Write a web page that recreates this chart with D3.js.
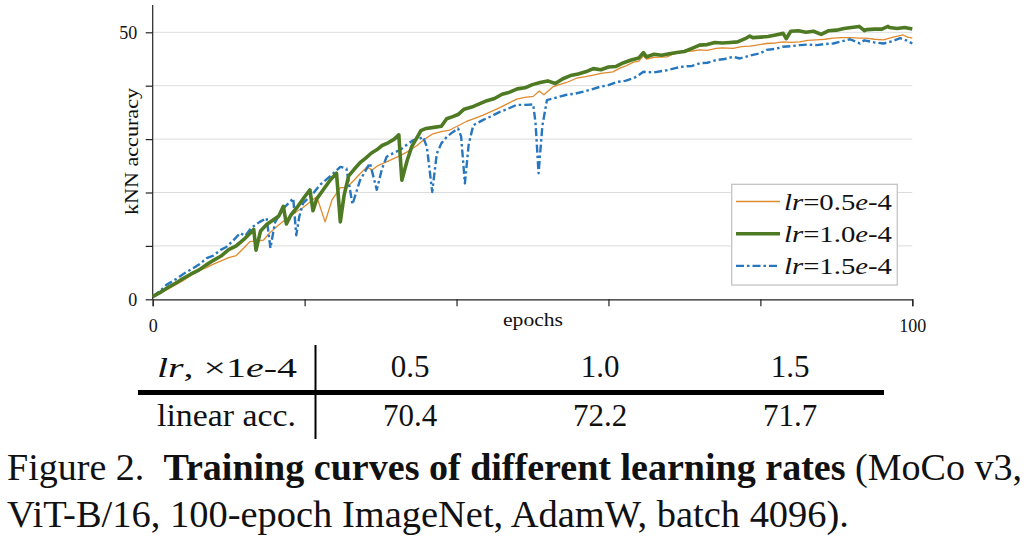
<!DOCTYPE html>
<html><head><meta charset="utf-8">
<script src="https://cdn.jsdelivr.net/npm/d3@7/dist/d3.min.js"></script>
<style>body{margin:0;background:#fff}svg{display:block}</style>
</head><body><svg id="c" width="1030" height="539"></svg>
<script>
// ---- data: [epoch, kNN accuracy] ----
const lr05 = [[0,0.5],[1,1.2],[2,1.9],[3,2.7],[4,3.5],[5,4.4],[6,5.3],[7,5.9],[8,6.6],[9,7.2],[10,7.8],[11,8.2],[12,9.6],[12.8,10.8],[13.5,10.9],[14.6,11.1],[15.3,12.3],[16.3,13.6],[17,14.4],[18,15.4],[19,16.5],[19.8,17.2],[20.7,18.2],[21.6,19.2],[22.7,14.5],[23.6,18.6],[24.7,20.9],[25.5,20.9],[26.5,22.3],[27.3,23.5],[28.2,24.8],[28.9,24.2],[29.6,25.0],[30.4,25.5],[31.5,26.2],[32.6,26.9],[33.5,27.6],[34.8,28.8],[35.8,30.0],[36.9,31.0],[38,31.4],[39.1,31.7],[40.2,32.5],[41.3,33.3],[42.4,33.9],[43.5,34.5],[44.6,35.2],[45.7,35.9],[46.8,36.7],[47.9,37.5],[49,37.8],[50.1,38.0],[50.9,39.0],[51.5,38.3],[52.7,39.8],[53.5,40.2],[54.5,40.6],[55.8,41.4],[57,41.7],[58,42.0],[59,42.3],[60.6,42.6],[61.5,43.3],[62.3,43.7],[63.3,44.4],[64,44.6],[64.6,45.6],[65,45.0],[66,45.3],[67.7,45.4],[68.5,45.9],[69.9,46.4],[71,46.5],[72,46.7],[73,46.6],[74.2,47.0],[75,47.1],[76.4,47.0],[77.5,47.3],[78.6,47.4],[79.5,47.6],[80.8,47.9],[82,48.0],[83,48.2],[84,48.1],[85.2,48.2],[86.2,48.5],[87.4,48.6],[88.5,48.7],[89.6,48.9],[90.7,49.0],[91.8,49.0],[93,48.9],[93.9,48.9],[95,48.7],[96.2,48.6],[97.5,49.1],[98.8,49.5],[99.4,49.1],[100,48.9]];
const lr10 = [[0,0.5],[1,1.3],[2,2.2],[3,3.0],[4,3.9],[5,4.7],[6,5.4],[7,6.4],[8,7.3],[9,8.1],[10,9.3],[11,10.0],[12,11.2],[13,12.6],[13.3,13.1],[13.6,9.2],[14.2,12.8],[15,14.0],[16,15.0],[16.6,15.6],[17.2,17.4],[17.6,14.1],[18.2,15.8],[19,17.2],[20,19.2],[20.7,20.5],[21.1,16.6],[21.6,18.8],[22.5,20.6],[23.4,22.4],[24.2,23.6],[24.7,14.5],[25.2,19.5],[25.8,23.1],[26.5,24.3],[27.3,25.6],[28,26.4],[28.8,27.4],[29.5,28.0],[30.2,28.8],[31,29.3],[31.8,30.0],[32.4,30.8],[32.8,22.3],[33.5,26.0],[34.1,28.6],[35,30.8],[35.3,31.6],[36,32.0],[37,32.2],[38,32.4],[38.7,33.8],[39.5,34.2],[40.2,34.6],[41,35.6],[42,36.0],[43,36.6],[44,37.2],[45,37.6],[46,38.4],[47,38.8],[48,39.4],[49,39.6],[50,40.2],[51,40.6],[52,40.9],[53,40.4],[54,41.3],[55,41.9],[56,42.2],[57,42.6],[58,43.2],[59,43.0],[60,43.5],[61,43.6],[62,44.3],[63,44.8],[64,45.2],[64.6,46.2],[65,45.4],[66,45.9],[67,45.7],[68,46.0],[69,46.2],[70,46.4],[71,47.0],[72,47.6],[73,47.7],[74,48.1],[75,48.0],[76,48.1],[77,48.2],[78,48.8],[78.6,49.3],[79,49.0],[80,49.1],[81,49.2],[82,49.5],[83,49.8],[83.4,48.8],[84,50.2],[85,50.3],[86,50.0],[87,50.2],[88,49.6],[89,50.3],[90,50.4],[91,50.7],[92,50.9],[93,51.1],[93.7,50.3],[94,50.5],[95,50.6],[96,50.6],[96.8,51.1],[97,50.9],[98,50.7],[99,50.9],[100,50.6]];
const lr15 = [[0,0.5],[1,1.6],[1.8,2.7],[2.5,3.3],[3.2,3.9],[4.2,4.9],[5.3,5.8],[6.2,6.6],[7.1,7.7],[8,8.2],[9,9.3],[9.7,9.8],[10.6,11.0],[11.5,12.4],[12.2,11.9],[13,13.4],[14.1,14.5],[15,15.2],[15.5,9.6],[16.1,14.4],[17.2,17.0],[18.5,18.9],[18.9,12.0],[19.3,15.5],[19.8,18.0],[21.1,19.8],[22,21.4],[23,22.6],[23.8,23.6],[24.7,24.8],[25.5,24.5],[26.3,17.8],[27.3,22.3],[28.6,25.5],[29.5,20.5],[30.2,24.5],[30.8,26.7],[31.7,27.4],[32.6,28.0],[33.5,29.0],[34.3,29.8],[35,30.0],[35.6,30.4],[36.1,28.5],[36.8,20.1],[37.4,27.3],[38,29.2],[38.7,30.4],[39.5,31.3],[40.2,32.0],[40.6,30.5],[41.1,21.7],[41.6,29.0],[42.2,32.6],[43.5,33.6],[44.6,34.3],[45.7,35.1],[46.8,35.7],[47.9,36.4],[49,36.4],[50.1,36.5],[50.4,33.0],[50.8,23.6],[51.3,32.5],[51.9,37.3],[53.2,37.8],[54.5,38.3],[55.6,38.5],[56.7,38.9],[57.8,39.3],[58.9,39.8],[60,40.1],[61.1,40.7],[62.2,40.9],[63.3,41.4],[64,42.0],[64.6,42.6],[66,42.5],[67.7,42.9],[68.8,43.3],[69.9,43.6],[71,43.7],[72,44.2],[73,44.3],[74.2,44.8],[75.3,45.0],[76.4,45.4],[77.3,45.1],[78.5,45.6],[80,46.1],[80.8,46.7],[82,46.9],[83,47.3],[84,47.4],[85.2,47.6],[86.3,47.7],[87.4,47.6],[88.5,47.8],[89.6,47.9],[90.7,48.3],[91.8,48.7],[93.1,47.9],[93.7,48.5],[95,48.1],[96.2,47.9],[97.3,48.3],[98.4,48.9],[99.2,48.5],[100,47.9]];

const seriesNames = ["0.5", "1.0", "1.5"];
const xTicks = [0, 20, 40, 60, 80, 100];
const xTickLabels = ["0", "", "", "", "", "100"];
const yTicks = [0, 10, 20, 30, 40, 50];
const yTickLabels = ["0", "", "", "", "", "50"];
const tableHeader = ["0.5", "1.0", "1.5"];
const tableLinearAcc = ["70.4", "72.2", "71.7"];

const FONT = "Liberation Serif";
const svg = d3.select("#c");
const x = d3.scaleLinear().domain([0, 100]).range([152.7, 912.3]);
const y = d3.scaleLinear().domain([0, 50]).range([299.3, 32.3]);
const yTop = 5;

function txt(sel, size) {
  return sel.append("text").attr("font-family", FONT).attr("font-size", size).attr("fill", "#111");
}

// grid
svg.append("g").selectAll("line").data(yTicks.slice(1)).join("line")
  .attr("x1", x(0)).attr("x2", x(100)).attr("y1", d => y(d)).attr("y2", d => y(d))
  .attr("stroke", "#dcdcdc").attr("stroke-width", 1);

// axes
const xAxis = d3.axisBottom(x).tickValues(xTicks).tickFormat((d, i) => xTickLabels[i]).tickSize(7);
const gx = svg.append("g").attr("transform", `translate(0,${y(0)})`).call(xAxis);
gx.select(".domain").attr("stroke", "#222").attr("stroke-width", 1.2);
gx.selectAll(".tick line").attr("stroke", "#222").attr("stroke-width", 1.2);
gx.selectAll("text").attr("font-family", FONT).attr("font-size", 18).attr("fill", "#111")
  .attr("y", 32.5).attr("dy", 0);

const yAxis = d3.axisLeft(y).tickValues(yTicks).tickFormat((d, i) => yTickLabels[i]).tickSize(7).tickPadding(8.5);
const gy = svg.append("g").attr("transform", `translate(${x(0)},0)`).call(yAxis);
gy.select(".domain").attr("d", `M0,${yTop}V${y(0)}`).attr("stroke", "#222").attr("stroke-width", 1.2);
gy.selectAll(".tick line").attr("stroke", "#222").attr("stroke-width", 1.2);
gy.selectAll("text").attr("font-family", FONT).attr("font-size", 18).attr("fill", "#111");

txt(svg, 19).attr("x", 533).attr("y", 326).attr("text-anchor", "middle")
  .attr("textLength", 60).attr("lengthAdjust", "spacingAndGlyphs").text("epochs");
txt(svg, 19).attr("transform", "translate(137.5,151.5) rotate(-90)").attr("text-anchor", "middle")
  .attr("textLength", 127).attr("lengthAdjust", "spacingAndGlyphs").text("kNN accuracy");

// lines
const line = d3.line().x(d => x(d[0])).y(d => y(d[1]));
const styles = [
  {data: lr05, color: "#e08a2e", w: 1.3, dash: null},
  {data: lr15, color: "#2777bf", w: 2.4, dash: "8,3,2.5,3"},
  {data: lr10, color: "#4d7a22", w: 3.6, dash: null}
];
styles.forEach(s => {
  svg.append("path").datum(s.data).attr("d", line).attr("fill", "none")
    .attr("stroke", s.color).attr("stroke-width", s.w).attr("stroke-linejoin", "round")
    .attr("stroke-dasharray", s.dash);
});

// legend
const leg = svg.append("g");
leg.append("rect").attr("x", 731.7).attr("y", 184.3).attr("width", 165.6).attr("height", 100.7)
  .attr("fill", "#fff").attr("stroke", "#c4c4c4").attr("stroke-width", 1.3);
const legStyles = [styles[0], styles[2], styles[1]];
seriesNames.forEach((n, i) => {
  const ly = 201.5 + i * 32.2;
  const s = legStyles[i];
  leg.append("line").attr("x1", 736).attr("x2", 780).attr("y1", ly).attr("y2", ly)
    .attr("stroke", s.color).attr("stroke-width", s.w).attr("stroke-dasharray", s.dash);
  const t = txt(leg, 24).attr("x", 784).attr("y", ly + 8.5)
    .attr("textLength", 108).attr("lengthAdjust", "spacingAndGlyphs");
  t.append("tspan").attr("font-style", "italic").text("lr");
  t.append("tspan").text("=" + n);
  t.append("tspan").attr("font-style", "italic").text("e");
  t.append("tspan").text("-4");
});

// table
const colX = [410, 600, 790];
const t1 = txt(svg, 27).attr("x", 157).attr("y", 377)
  .attr("textLength", 140).attr("lengthAdjust", "spacingAndGlyphs");
t1.append("tspan").attr("font-style", "italic").text("lr");
t1.append("tspan").text(", \u00d71");
t1.append("tspan").attr("font-style", "italic").text("e");
t1.append("tspan").text("-4");
svg.append("g").selectAll("text").data(tableHeader).join("text")
  .attr("font-family", FONT).attr("font-size", 31).attr("fill", "#111")
  .attr("x", (d, i) => colX[i]).attr("y", 377).attr("text-anchor", "middle").text(d => d);
txt(svg, 32).attr("x", 157).attr("y", 426)
  .attr("textLength", 139).attr("lengthAdjust", "spacingAndGlyphs").text("linear acc.");
svg.append("g").selectAll("text").data(tableLinearAcc).join("text")
  .attr("font-family", FONT).attr("font-size", 31).attr("fill", "#111")
  .attr("x", (d, i) => colX[i]).attr("y", 426).attr("text-anchor", "middle").text(d => d);
svg.append("line").attr("x1", 138).attr("x2", 884).attr("y1", 392.5).attr("y2", 392.5).attr("stroke", "#000").attr("stroke-width", 5);
svg.append("line").attr("x1", 315.5).attr("x2", 315.5).attr("y1", 345).attr("y2", 439).attr("stroke", "#000").attr("stroke-width", 2);

// caption
const c1 = txt(svg, 38).attr("x", 7).attr("y", 480)
  .attr("textLength", 1015).attr("lengthAdjust", "spacingAndGlyphs");
c1.append("tspan").text("Figure 2.\u2002");
c1.append("tspan").attr("font-weight", "bold").text("Training curves of different learning rates");
c1.append("tspan").text(" (MoCo v3,");
txt(svg, 38).attr("x", 7).attr("y", 527)
  .attr("textLength", 842).attr("lengthAdjust", "spacingAndGlyphs")
  .text("ViT-B/16, 100-epoch ImageNet, AdamW, batch 4096).");
</script></body></html>
